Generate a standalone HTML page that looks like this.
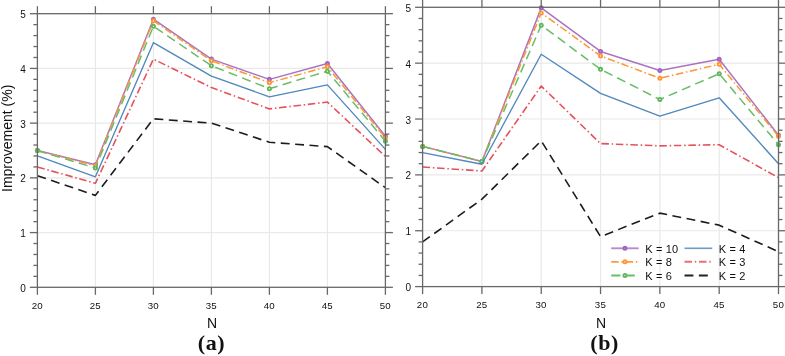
<!DOCTYPE html>
<html><head><meta charset="utf-8"><style>
html,body{margin:0;padding:0;background:#fff;overflow:hidden;}
svg{display:block;}
text{font-family:'Liberation Sans', Arial, Helvetica, sans-serif;fill:#111;}
.t{font-size:10px;}
.tx{font-size:9.7px;letter-spacing:0.25px;}
.n{font-size:14px;}
.lg{font-size:11px;letter-spacing:0.15px;}
.lab{font-family:'Liberation Serif','Times New Roman',serif;font-weight:bold;font-size:22px;letter-spacing:0.6px;}
</style></head><body>
<svg width="785" height="356" viewBox="0 0 785 356">
<rect width="785" height="356" fill="#fff"/>
<line x1="95.4" y1="13.7" x2="95.4" y2="287.3" stroke="#e9e9e9" stroke-width="1.2"/>
<line x1="153.4" y1="13.7" x2="153.4" y2="287.3" stroke="#e9e9e9" stroke-width="1.2"/>
<line x1="211.4" y1="13.7" x2="211.4" y2="287.3" stroke="#e9e9e9" stroke-width="1.2"/>
<line x1="269.4" y1="13.7" x2="269.4" y2="287.3" stroke="#e9e9e9" stroke-width="1.2"/>
<line x1="327.4" y1="13.7" x2="327.4" y2="287.3" stroke="#e9e9e9" stroke-width="1.2"/>
<line x1="37.4" y1="232.58" x2="385.4" y2="232.58" stroke="#e9e9e9" stroke-width="1.2"/>
<line x1="37.4" y1="177.86" x2="385.4" y2="177.86" stroke="#e9e9e9" stroke-width="1.2"/>
<line x1="37.4" y1="123.14" x2="385.4" y2="123.14" stroke="#e9e9e9" stroke-width="1.2"/>
<line x1="37.4" y1="68.42" x2="385.4" y2="68.42" stroke="#e9e9e9" stroke-width="1.2"/>
<polyline points="37.4,150.5 95.4,164.73 153.4,19.17 211.4,59.12 269.4,79.36 327.4,63.5 385.4,136.27" fill="none" stroke="#a874c0" stroke-width="1.5" stroke-linejoin="round"/>
<circle cx="37.4" cy="150.5" r="1.55" fill="#bf8fd0" stroke="#a464bf" stroke-width="1.9"/>
<circle cx="95.4" cy="164.73" r="1.55" fill="#bf8fd0" stroke="#a464bf" stroke-width="1.9"/>
<circle cx="153.4" cy="19.17" r="1.55" fill="#bf8fd0" stroke="#a464bf" stroke-width="1.9"/>
<circle cx="211.4" cy="59.12" r="1.55" fill="#bf8fd0" stroke="#a464bf" stroke-width="1.9"/>
<circle cx="269.4" cy="79.36" r="1.55" fill="#bf8fd0" stroke="#a464bf" stroke-width="1.9"/>
<circle cx="327.4" cy="63.5" r="1.55" fill="#bf8fd0" stroke="#a464bf" stroke-width="1.9"/>
<circle cx="385.4" cy="136.27" r="1.55" fill="#bf8fd0" stroke="#a464bf" stroke-width="1.9"/>
<polyline points="37.4,150.5 95.4,165.82 153.4,20.81 211.4,60.76 269.4,82.65 327.4,66.78 385.4,137.91" fill="none" stroke="#ff9633" stroke-width="1.5" stroke-dasharray="7.5 2.7 1.5 2.7" stroke-linejoin="round"/>
<circle cx="37.4" cy="150.5" r="1.55" fill="#fff" stroke="#ff9633" stroke-width="1.9"/>
<circle cx="95.4" cy="165.82" r="1.55" fill="#fff" stroke="#ff9633" stroke-width="1.9"/>
<circle cx="153.4" cy="20.81" r="1.55" fill="#fff" stroke="#ff9633" stroke-width="1.9"/>
<circle cx="211.4" cy="60.76" r="1.55" fill="#fff" stroke="#ff9633" stroke-width="1.9"/>
<circle cx="269.4" cy="82.65" r="1.55" fill="#fff" stroke="#ff9633" stroke-width="1.9"/>
<circle cx="327.4" cy="66.78" r="1.55" fill="#fff" stroke="#ff9633" stroke-width="1.9"/>
<circle cx="385.4" cy="137.91" r="1.55" fill="#fff" stroke="#ff9633" stroke-width="1.9"/>
<polyline points="37.4,150.5 95.4,168.01 153.4,26.29 211.4,65.68 269.4,88.67 327.4,71.16 385.4,141.2" fill="none" stroke="#6abd68" stroke-width="1.5" stroke-dasharray="9.2 5.2" stroke-linejoin="round"/>
<circle cx="37.4" cy="150.5" r="1.55" fill="#fff" stroke="#5cb85c" stroke-width="1.9"/>
<circle cx="95.4" cy="168.01" r="1.55" fill="#fff" stroke="#5cb85c" stroke-width="1.9"/>
<circle cx="153.4" cy="26.29" r="1.55" fill="#fff" stroke="#5cb85c" stroke-width="1.9"/>
<circle cx="211.4" cy="65.68" r="1.55" fill="#fff" stroke="#5cb85c" stroke-width="1.9"/>
<circle cx="269.4" cy="88.67" r="1.55" fill="#fff" stroke="#5cb85c" stroke-width="1.9"/>
<circle cx="327.4" cy="71.16" r="1.55" fill="#fff" stroke="#5cb85c" stroke-width="1.9"/>
<circle cx="385.4" cy="141.2" r="1.55" fill="#fff" stroke="#5cb85c" stroke-width="1.9"/>
<polyline points="37.4,155.97 95.4,176.77 153.4,42.7 211.4,76.08 269.4,96.87 327.4,84.84 385.4,149.41" fill="none" stroke="#5088bb" stroke-width="1.35" stroke-linejoin="round"/>
<polyline points="37.4,166.92 95.4,183.33 153.4,59.12 211.4,87.57 269.4,108.91 327.4,102.07 385.4,156.52" fill="none" stroke="#e6525a" stroke-width="1.6" stroke-dasharray="7.5 2.8 1.5 2.7" stroke-linejoin="round"/>
<polyline points="37.4,175.67 95.4,195.37 153.4,118.76 211.4,123.14 269.4,142.29 327.4,146.67 385.4,187.71" fill="none" stroke="#1c1c1c" stroke-width="1.6" stroke-dasharray="8.9 5.5" stroke-linejoin="round"/>
<rect x="37.4" y="13.7" width="348" height="273.6" fill="none" stroke="#686868" stroke-width="1.3"/>
<line x1="37.4" y1="287.3" x2="37.4" y2="294.8" stroke="#686868" stroke-width="1.3"/>
<line x1="37.4" y1="13.7" x2="37.4" y2="6.2" stroke="#686868" stroke-width="1.3"/>
<line x1="95.4" y1="287.3" x2="95.4" y2="294.8" stroke="#686868" stroke-width="1.3"/>
<line x1="95.4" y1="13.7" x2="95.4" y2="6.2" stroke="#686868" stroke-width="1.3"/>
<line x1="153.4" y1="287.3" x2="153.4" y2="294.8" stroke="#686868" stroke-width="1.3"/>
<line x1="153.4" y1="13.7" x2="153.4" y2="6.2" stroke="#686868" stroke-width="1.3"/>
<line x1="211.4" y1="287.3" x2="211.4" y2="294.8" stroke="#686868" stroke-width="1.3"/>
<line x1="211.4" y1="13.7" x2="211.4" y2="6.2" stroke="#686868" stroke-width="1.3"/>
<line x1="269.4" y1="287.3" x2="269.4" y2="294.8" stroke="#686868" stroke-width="1.3"/>
<line x1="269.4" y1="13.7" x2="269.4" y2="6.2" stroke="#686868" stroke-width="1.3"/>
<line x1="327.4" y1="287.3" x2="327.4" y2="294.8" stroke="#686868" stroke-width="1.3"/>
<line x1="327.4" y1="13.7" x2="327.4" y2="6.2" stroke="#686868" stroke-width="1.3"/>
<line x1="385.4" y1="287.3" x2="385.4" y2="294.8" stroke="#686868" stroke-width="1.3"/>
<line x1="385.4" y1="13.7" x2="385.4" y2="6.2" stroke="#686868" stroke-width="1.3"/>
<line x1="37.4" y1="287.3" x2="29.9" y2="287.3" stroke="#686868" stroke-width="1.3"/>
<line x1="385.4" y1="287.3" x2="392.9" y2="287.3" stroke="#686868" stroke-width="1.3"/>
<line x1="37.4" y1="276.36" x2="33.4" y2="276.36" stroke="#686868" stroke-width="1.3"/>
<line x1="385.4" y1="276.36" x2="389.4" y2="276.36" stroke="#686868" stroke-width="1.3"/>
<line x1="37.4" y1="265.41" x2="33.4" y2="265.41" stroke="#686868" stroke-width="1.3"/>
<line x1="385.4" y1="265.41" x2="389.4" y2="265.41" stroke="#686868" stroke-width="1.3"/>
<line x1="37.4" y1="254.47" x2="33.4" y2="254.47" stroke="#686868" stroke-width="1.3"/>
<line x1="385.4" y1="254.47" x2="389.4" y2="254.47" stroke="#686868" stroke-width="1.3"/>
<line x1="37.4" y1="243.52" x2="33.4" y2="243.52" stroke="#686868" stroke-width="1.3"/>
<line x1="385.4" y1="243.52" x2="389.4" y2="243.52" stroke="#686868" stroke-width="1.3"/>
<line x1="37.4" y1="232.58" x2="29.9" y2="232.58" stroke="#686868" stroke-width="1.3"/>
<line x1="385.4" y1="232.58" x2="392.9" y2="232.58" stroke="#686868" stroke-width="1.3"/>
<line x1="37.4" y1="221.64" x2="33.4" y2="221.64" stroke="#686868" stroke-width="1.3"/>
<line x1="385.4" y1="221.64" x2="389.4" y2="221.64" stroke="#686868" stroke-width="1.3"/>
<line x1="37.4" y1="210.69" x2="33.4" y2="210.69" stroke="#686868" stroke-width="1.3"/>
<line x1="385.4" y1="210.69" x2="389.4" y2="210.69" stroke="#686868" stroke-width="1.3"/>
<line x1="37.4" y1="199.75" x2="33.4" y2="199.75" stroke="#686868" stroke-width="1.3"/>
<line x1="385.4" y1="199.75" x2="389.4" y2="199.75" stroke="#686868" stroke-width="1.3"/>
<line x1="37.4" y1="188.8" x2="33.4" y2="188.8" stroke="#686868" stroke-width="1.3"/>
<line x1="385.4" y1="188.8" x2="389.4" y2="188.8" stroke="#686868" stroke-width="1.3"/>
<line x1="37.4" y1="177.86" x2="29.9" y2="177.86" stroke="#686868" stroke-width="1.3"/>
<line x1="385.4" y1="177.86" x2="392.9" y2="177.86" stroke="#686868" stroke-width="1.3"/>
<line x1="37.4" y1="166.92" x2="33.4" y2="166.92" stroke="#686868" stroke-width="1.3"/>
<line x1="385.4" y1="166.92" x2="389.4" y2="166.92" stroke="#686868" stroke-width="1.3"/>
<line x1="37.4" y1="155.97" x2="33.4" y2="155.97" stroke="#686868" stroke-width="1.3"/>
<line x1="385.4" y1="155.97" x2="389.4" y2="155.97" stroke="#686868" stroke-width="1.3"/>
<line x1="37.4" y1="145.03" x2="33.4" y2="145.03" stroke="#686868" stroke-width="1.3"/>
<line x1="385.4" y1="145.03" x2="389.4" y2="145.03" stroke="#686868" stroke-width="1.3"/>
<line x1="37.4" y1="134.08" x2="33.4" y2="134.08" stroke="#686868" stroke-width="1.3"/>
<line x1="385.4" y1="134.08" x2="389.4" y2="134.08" stroke="#686868" stroke-width="1.3"/>
<line x1="37.4" y1="123.14" x2="29.9" y2="123.14" stroke="#686868" stroke-width="1.3"/>
<line x1="385.4" y1="123.14" x2="392.9" y2="123.14" stroke="#686868" stroke-width="1.3"/>
<line x1="37.4" y1="112.2" x2="33.4" y2="112.2" stroke="#686868" stroke-width="1.3"/>
<line x1="385.4" y1="112.2" x2="389.4" y2="112.2" stroke="#686868" stroke-width="1.3"/>
<line x1="37.4" y1="101.25" x2="33.4" y2="101.25" stroke="#686868" stroke-width="1.3"/>
<line x1="385.4" y1="101.25" x2="389.4" y2="101.25" stroke="#686868" stroke-width="1.3"/>
<line x1="37.4" y1="90.31" x2="33.4" y2="90.31" stroke="#686868" stroke-width="1.3"/>
<line x1="385.4" y1="90.31" x2="389.4" y2="90.31" stroke="#686868" stroke-width="1.3"/>
<line x1="37.4" y1="79.36" x2="33.4" y2="79.36" stroke="#686868" stroke-width="1.3"/>
<line x1="385.4" y1="79.36" x2="389.4" y2="79.36" stroke="#686868" stroke-width="1.3"/>
<line x1="37.4" y1="68.42" x2="29.9" y2="68.42" stroke="#686868" stroke-width="1.3"/>
<line x1="385.4" y1="68.42" x2="392.9" y2="68.42" stroke="#686868" stroke-width="1.3"/>
<line x1="37.4" y1="57.48" x2="33.4" y2="57.48" stroke="#686868" stroke-width="1.3"/>
<line x1="385.4" y1="57.48" x2="389.4" y2="57.48" stroke="#686868" stroke-width="1.3"/>
<line x1="37.4" y1="46.53" x2="33.4" y2="46.53" stroke="#686868" stroke-width="1.3"/>
<line x1="385.4" y1="46.53" x2="389.4" y2="46.53" stroke="#686868" stroke-width="1.3"/>
<line x1="37.4" y1="35.59" x2="33.4" y2="35.59" stroke="#686868" stroke-width="1.3"/>
<line x1="385.4" y1="35.59" x2="389.4" y2="35.59" stroke="#686868" stroke-width="1.3"/>
<line x1="37.4" y1="24.64" x2="33.4" y2="24.64" stroke="#686868" stroke-width="1.3"/>
<line x1="385.4" y1="24.64" x2="389.4" y2="24.64" stroke="#686868" stroke-width="1.3"/>
<line x1="37.4" y1="13.7" x2="29.9" y2="13.7" stroke="#686868" stroke-width="1.3"/>
<line x1="385.4" y1="13.7" x2="392.9" y2="13.7" stroke="#686868" stroke-width="1.3"/>
<text x="25.9" y="291.9" text-anchor="end" class="t">0</text>
<text x="25.9" y="237.18" text-anchor="end" class="t">1</text>
<text x="25.9" y="182.46" text-anchor="end" class="t">2</text>
<text x="25.9" y="127.74" text-anchor="end" class="t">3</text>
<text x="25.9" y="73.02" text-anchor="end" class="t">4</text>
<text x="25.9" y="18.3" text-anchor="end" class="t">5</text>
<text x="37.3" y="308.5" text-anchor="middle" class="tx">20</text>
<text x="95.3" y="308.5" text-anchor="middle" class="tx">25</text>
<text x="153.3" y="308.5" text-anchor="middle" class="tx">30</text>
<text x="211.3" y="308.5" text-anchor="middle" class="tx">35</text>
<text x="269.3" y="308.5" text-anchor="middle" class="tx">40</text>
<text x="327.3" y="308.5" text-anchor="middle" class="tx">45</text>
<text x="385.3" y="308.5" text-anchor="middle" class="tx">50</text>
<text x="212" y="327.9" text-anchor="middle" class="n">N</text>
<text x="211.5" y="350.1" text-anchor="middle" class="lab">(a)</text>
<line x1="481.92" y1="7.3" x2="481.92" y2="286.6" stroke="#e9e9e9" stroke-width="1.2"/>
<line x1="541.23" y1="7.3" x2="541.23" y2="286.6" stroke="#e9e9e9" stroke-width="1.2"/>
<line x1="600.55" y1="7.3" x2="600.55" y2="286.6" stroke="#e9e9e9" stroke-width="1.2"/>
<line x1="659.87" y1="7.3" x2="659.87" y2="286.6" stroke="#e9e9e9" stroke-width="1.2"/>
<line x1="719.18" y1="7.3" x2="719.18" y2="286.6" stroke="#e9e9e9" stroke-width="1.2"/>
<line x1="422.6" y1="230.74" x2="778.5" y2="230.74" stroke="#e9e9e9" stroke-width="1.2"/>
<line x1="422.6" y1="174.88" x2="778.5" y2="174.88" stroke="#e9e9e9" stroke-width="1.2"/>
<line x1="422.6" y1="119.02" x2="778.5" y2="119.02" stroke="#e9e9e9" stroke-width="1.2"/>
<line x1="422.6" y1="63.16" x2="778.5" y2="63.16" stroke="#e9e9e9" stroke-width="1.2"/>
<polyline points="422.6,146.39 481.92,161.47 541.23,7.86 600.55,51.43 659.87,70.42 719.18,59.25 778.5,135.22" fill="none" stroke="#a874c0" stroke-width="1.5" stroke-linejoin="round"/>
<circle cx="422.6" cy="146.39" r="1.55" fill="#bf8fd0" stroke="#a464bf" stroke-width="1.9"/>
<circle cx="481.92" cy="161.47" r="1.55" fill="#bf8fd0" stroke="#a464bf" stroke-width="1.9"/>
<circle cx="541.23" cy="7.86" r="1.55" fill="#bf8fd0" stroke="#a464bf" stroke-width="1.9"/>
<circle cx="600.55" cy="51.43" r="1.55" fill="#bf8fd0" stroke="#a464bf" stroke-width="1.9"/>
<circle cx="659.87" cy="70.42" r="1.55" fill="#bf8fd0" stroke="#a464bf" stroke-width="1.9"/>
<circle cx="719.18" cy="59.25" r="1.55" fill="#bf8fd0" stroke="#a464bf" stroke-width="1.9"/>
<circle cx="778.5" cy="135.22" r="1.55" fill="#bf8fd0" stroke="#a464bf" stroke-width="1.9"/>
<polyline points="422.6,146.39 481.92,161.47 541.23,12.89 600.55,55.9 659.87,78.24 719.18,64.28 778.5,136.34" fill="none" stroke="#ff9633" stroke-width="1.5" stroke-dasharray="7.5 2.7 1.5 2.7" stroke-linejoin="round"/>
<circle cx="422.6" cy="146.39" r="1.55" fill="#fff" stroke="#ff9633" stroke-width="1.9"/>
<circle cx="481.92" cy="161.47" r="1.55" fill="#fff" stroke="#ff9633" stroke-width="1.9"/>
<circle cx="541.23" cy="12.89" r="1.55" fill="#fff" stroke="#ff9633" stroke-width="1.9"/>
<circle cx="600.55" cy="55.9" r="1.55" fill="#fff" stroke="#ff9633" stroke-width="1.9"/>
<circle cx="659.87" cy="78.24" r="1.55" fill="#fff" stroke="#ff9633" stroke-width="1.9"/>
<circle cx="719.18" cy="64.28" r="1.55" fill="#fff" stroke="#ff9633" stroke-width="1.9"/>
<circle cx="778.5" cy="136.34" r="1.55" fill="#fff" stroke="#ff9633" stroke-width="1.9"/>
<polyline points="422.6,146.39 481.92,161.47 541.23,25.18 600.55,69.3 659.87,99.47 719.18,73.77 778.5,144.72" fill="none" stroke="#6abd68" stroke-width="1.5" stroke-dasharray="9.2 5.2" stroke-linejoin="round"/>
<circle cx="422.6" cy="146.39" r="1.55" fill="#fff" stroke="#5cb85c" stroke-width="1.9"/>
<circle cx="481.92" cy="161.47" r="1.55" fill="#fff" stroke="#5cb85c" stroke-width="1.9"/>
<circle cx="541.23" cy="25.18" r="1.55" fill="#fff" stroke="#5cb85c" stroke-width="1.9"/>
<circle cx="600.55" cy="69.3" r="1.55" fill="#fff" stroke="#5cb85c" stroke-width="1.9"/>
<circle cx="659.87" cy="99.47" r="1.55" fill="#fff" stroke="#5cb85c" stroke-width="1.9"/>
<circle cx="719.18" cy="73.77" r="1.55" fill="#fff" stroke="#5cb85c" stroke-width="1.9"/>
<circle cx="778.5" cy="144.72" r="1.55" fill="#fff" stroke="#5cb85c" stroke-width="1.9"/>
<polyline points="422.6,152.54 481.92,164.27 541.23,54.22 600.55,93.32 659.87,116.23 719.18,97.79 778.5,163.71" fill="none" stroke="#5088bb" stroke-width="1.35" stroke-linejoin="round"/>
<polyline points="422.6,167.06 481.92,170.97 541.23,86.06 600.55,143.6 659.87,145.83 719.18,144.72 778.5,177.67" fill="none" stroke="#e6525a" stroke-width="1.6" stroke-dasharray="7.5 2.8 1.5 2.7" stroke-linejoin="round"/>
<polyline points="422.6,241.91 481.92,199.18 541.23,140.81 600.55,236.61 659.87,213.14 719.18,225.15 778.5,251.69" fill="none" stroke="#1c1c1c" stroke-width="1.6" stroke-dasharray="8.9 5.5" stroke-linejoin="round"/>
<rect x="422.6" y="7.3" width="355.9" height="279.3" fill="none" stroke="#686868" stroke-width="1.3"/>
<line x1="422.6" y1="286.6" x2="422.6" y2="294.1" stroke="#686868" stroke-width="1.3"/>
<line x1="422.6" y1="7.3" x2="422.6" y2="-0.2" stroke="#686868" stroke-width="1.3"/>
<line x1="481.92" y1="286.6" x2="481.92" y2="294.1" stroke="#686868" stroke-width="1.3"/>
<line x1="481.92" y1="7.3" x2="481.92" y2="-0.2" stroke="#686868" stroke-width="1.3"/>
<line x1="541.23" y1="286.6" x2="541.23" y2="294.1" stroke="#686868" stroke-width="1.3"/>
<line x1="541.23" y1="7.3" x2="541.23" y2="-0.2" stroke="#686868" stroke-width="1.3"/>
<line x1="600.55" y1="286.6" x2="600.55" y2="294.1" stroke="#686868" stroke-width="1.3"/>
<line x1="600.55" y1="7.3" x2="600.55" y2="-0.2" stroke="#686868" stroke-width="1.3"/>
<line x1="659.87" y1="286.6" x2="659.87" y2="294.1" stroke="#686868" stroke-width="1.3"/>
<line x1="659.87" y1="7.3" x2="659.87" y2="-0.2" stroke="#686868" stroke-width="1.3"/>
<line x1="719.18" y1="286.6" x2="719.18" y2="294.1" stroke="#686868" stroke-width="1.3"/>
<line x1="719.18" y1="7.3" x2="719.18" y2="-0.2" stroke="#686868" stroke-width="1.3"/>
<line x1="778.5" y1="286.6" x2="778.5" y2="294.1" stroke="#686868" stroke-width="1.3"/>
<line x1="778.5" y1="7.3" x2="778.5" y2="-0.2" stroke="#686868" stroke-width="1.3"/>
<line x1="422.6" y1="286.6" x2="415.1" y2="286.6" stroke="#686868" stroke-width="1.3"/>
<line x1="778.5" y1="286.6" x2="786" y2="286.6" stroke="#686868" stroke-width="1.3"/>
<line x1="422.6" y1="275.43" x2="418.6" y2="275.43" stroke="#686868" stroke-width="1.3"/>
<line x1="778.5" y1="275.43" x2="782.5" y2="275.43" stroke="#686868" stroke-width="1.3"/>
<line x1="422.6" y1="264.26" x2="418.6" y2="264.26" stroke="#686868" stroke-width="1.3"/>
<line x1="778.5" y1="264.26" x2="782.5" y2="264.26" stroke="#686868" stroke-width="1.3"/>
<line x1="422.6" y1="253.08" x2="418.6" y2="253.08" stroke="#686868" stroke-width="1.3"/>
<line x1="778.5" y1="253.08" x2="782.5" y2="253.08" stroke="#686868" stroke-width="1.3"/>
<line x1="422.6" y1="241.91" x2="418.6" y2="241.91" stroke="#686868" stroke-width="1.3"/>
<line x1="778.5" y1="241.91" x2="782.5" y2="241.91" stroke="#686868" stroke-width="1.3"/>
<line x1="422.6" y1="230.74" x2="415.1" y2="230.74" stroke="#686868" stroke-width="1.3"/>
<line x1="778.5" y1="230.74" x2="786" y2="230.74" stroke="#686868" stroke-width="1.3"/>
<line x1="422.6" y1="219.57" x2="418.6" y2="219.57" stroke="#686868" stroke-width="1.3"/>
<line x1="778.5" y1="219.57" x2="782.5" y2="219.57" stroke="#686868" stroke-width="1.3"/>
<line x1="422.6" y1="208.4" x2="418.6" y2="208.4" stroke="#686868" stroke-width="1.3"/>
<line x1="778.5" y1="208.4" x2="782.5" y2="208.4" stroke="#686868" stroke-width="1.3"/>
<line x1="422.6" y1="197.22" x2="418.6" y2="197.22" stroke="#686868" stroke-width="1.3"/>
<line x1="778.5" y1="197.22" x2="782.5" y2="197.22" stroke="#686868" stroke-width="1.3"/>
<line x1="422.6" y1="186.05" x2="418.6" y2="186.05" stroke="#686868" stroke-width="1.3"/>
<line x1="778.5" y1="186.05" x2="782.5" y2="186.05" stroke="#686868" stroke-width="1.3"/>
<line x1="422.6" y1="174.88" x2="415.1" y2="174.88" stroke="#686868" stroke-width="1.3"/>
<line x1="778.5" y1="174.88" x2="786" y2="174.88" stroke="#686868" stroke-width="1.3"/>
<line x1="422.6" y1="163.71" x2="418.6" y2="163.71" stroke="#686868" stroke-width="1.3"/>
<line x1="778.5" y1="163.71" x2="782.5" y2="163.71" stroke="#686868" stroke-width="1.3"/>
<line x1="422.6" y1="152.54" x2="418.6" y2="152.54" stroke="#686868" stroke-width="1.3"/>
<line x1="778.5" y1="152.54" x2="782.5" y2="152.54" stroke="#686868" stroke-width="1.3"/>
<line x1="422.6" y1="141.36" x2="418.6" y2="141.36" stroke="#686868" stroke-width="1.3"/>
<line x1="778.5" y1="141.36" x2="782.5" y2="141.36" stroke="#686868" stroke-width="1.3"/>
<line x1="422.6" y1="130.19" x2="418.6" y2="130.19" stroke="#686868" stroke-width="1.3"/>
<line x1="778.5" y1="130.19" x2="782.5" y2="130.19" stroke="#686868" stroke-width="1.3"/>
<line x1="422.6" y1="119.02" x2="415.1" y2="119.02" stroke="#686868" stroke-width="1.3"/>
<line x1="778.5" y1="119.02" x2="786" y2="119.02" stroke="#686868" stroke-width="1.3"/>
<line x1="422.6" y1="107.85" x2="418.6" y2="107.85" stroke="#686868" stroke-width="1.3"/>
<line x1="778.5" y1="107.85" x2="782.5" y2="107.85" stroke="#686868" stroke-width="1.3"/>
<line x1="422.6" y1="96.68" x2="418.6" y2="96.68" stroke="#686868" stroke-width="1.3"/>
<line x1="778.5" y1="96.68" x2="782.5" y2="96.68" stroke="#686868" stroke-width="1.3"/>
<line x1="422.6" y1="85.5" x2="418.6" y2="85.5" stroke="#686868" stroke-width="1.3"/>
<line x1="778.5" y1="85.5" x2="782.5" y2="85.5" stroke="#686868" stroke-width="1.3"/>
<line x1="422.6" y1="74.33" x2="418.6" y2="74.33" stroke="#686868" stroke-width="1.3"/>
<line x1="778.5" y1="74.33" x2="782.5" y2="74.33" stroke="#686868" stroke-width="1.3"/>
<line x1="422.6" y1="63.16" x2="415.1" y2="63.16" stroke="#686868" stroke-width="1.3"/>
<line x1="778.5" y1="63.16" x2="786" y2="63.16" stroke="#686868" stroke-width="1.3"/>
<line x1="422.6" y1="51.99" x2="418.6" y2="51.99" stroke="#686868" stroke-width="1.3"/>
<line x1="778.5" y1="51.99" x2="782.5" y2="51.99" stroke="#686868" stroke-width="1.3"/>
<line x1="422.6" y1="40.82" x2="418.6" y2="40.82" stroke="#686868" stroke-width="1.3"/>
<line x1="778.5" y1="40.82" x2="782.5" y2="40.82" stroke="#686868" stroke-width="1.3"/>
<line x1="422.6" y1="29.64" x2="418.6" y2="29.64" stroke="#686868" stroke-width="1.3"/>
<line x1="778.5" y1="29.64" x2="782.5" y2="29.64" stroke="#686868" stroke-width="1.3"/>
<line x1="422.6" y1="18.47" x2="418.6" y2="18.47" stroke="#686868" stroke-width="1.3"/>
<line x1="778.5" y1="18.47" x2="782.5" y2="18.47" stroke="#686868" stroke-width="1.3"/>
<line x1="422.6" y1="7.3" x2="415.1" y2="7.3" stroke="#686868" stroke-width="1.3"/>
<line x1="778.5" y1="7.3" x2="786" y2="7.3" stroke="#686868" stroke-width="1.3"/>
<text x="411.1" y="291.2" text-anchor="end" class="t">0</text>
<text x="411.1" y="235.34" text-anchor="end" class="t">1</text>
<text x="411.1" y="179.48" text-anchor="end" class="t">2</text>
<text x="411.1" y="123.62" text-anchor="end" class="t">3</text>
<text x="411.1" y="67.76" text-anchor="end" class="t">4</text>
<text x="411.1" y="11.9" text-anchor="end" class="t">5</text>
<text x="422.5" y="307.8" text-anchor="middle" class="tx">20</text>
<text x="481.82" y="307.8" text-anchor="middle" class="tx">25</text>
<text x="541.13" y="307.8" text-anchor="middle" class="tx">30</text>
<text x="600.45" y="307.8" text-anchor="middle" class="tx">35</text>
<text x="659.77" y="307.8" text-anchor="middle" class="tx">40</text>
<text x="719.08" y="307.8" text-anchor="middle" class="tx">45</text>
<text x="778.4" y="307.8" text-anchor="middle" class="tx">50</text>
<text x="601.15" y="327.9" text-anchor="middle" class="n">N</text>
<text x="604.6" y="350.1" text-anchor="middle" class="lab">(b)</text>
<text transform="translate(11.9,138.3) rotate(-90)" text-anchor="middle" class="n">Improvement (%)</text>
<line x1="611.2" y1="248.3" x2="638.7" y2="248.3" stroke="#b88cca" stroke-width="1.9"/>
<circle cx="624.95" cy="248.3" r="1.55" fill="#bf8fd0" stroke="#a464bf" stroke-width="1.9"/>
<text x="645.3" y="252.6" class="lg">K = 10</text>
<line x1="611.2" y1="261.8" x2="638.7" y2="261.8" stroke="#ff9a3c" stroke-width="1.8" stroke-dasharray="7.5 2.7 1.5 2.7"/>
<circle cx="624.95" cy="261.8" r="1.55" fill="#fff" stroke="#ff9633" stroke-width="1.9"/>
<text x="645.3" y="266.1" class="lg">K = 8</text>
<line x1="611.2" y1="275.5" x2="638.7" y2="275.5" stroke="#6abd68" stroke-width="1.8" stroke-dasharray="9.2 5.2"/>
<circle cx="624.95" cy="275.5" r="1.55" fill="#fff" stroke="#5cb85c" stroke-width="1.9"/>
<text x="645.3" y="279.8" class="lg">K = 6</text>
<line x1="684.5" y1="248.3" x2="712.2" y2="248.3" stroke="#6b9bc6" stroke-width="1.6"/>
<text x="718.8" y="252.6" class="lg">K = 4</text>
<line x1="684.5" y1="261.8" x2="712.2" y2="261.8" stroke="#ec6d72" stroke-width="1.9" stroke-dasharray="7.5 2.8 1.5 2.7"/>
<text x="718.8" y="266.1" class="lg">K = 3</text>
<line x1="684.5" y1="275.5" x2="712.2" y2="275.5" stroke="#222222" stroke-width="1.9" stroke-dasharray="8.9 5.5"/>
<text x="718.8" y="279.8" class="lg">K = 2</text>
</svg>
</body></html>
